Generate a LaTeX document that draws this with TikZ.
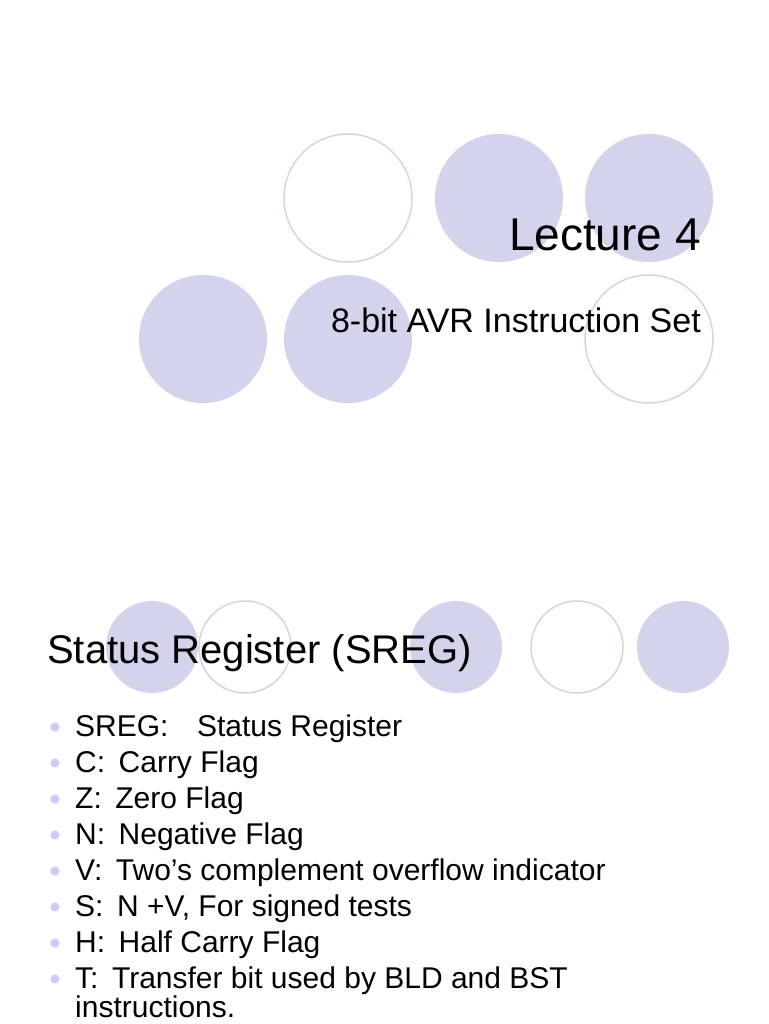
\documentclass[tikz,border=0pt]{standalone}
\usepackage{fontspec}
\setmainfont{Liberation Sans}
\definecolor{lav}{HTML}{D4D3EC}
\begin{document}
\begin{tikzpicture}[x=1pt,y=-1pt,
  fc/.style={fill=lav,draw=none},
  oc/.style={draw=lav,line width=1.5pt,fill=white},
  bl/.style={anchor=base west,font=\fontsize{30}{33}\selectfont,inner sep=0pt},
  bdot/.style={circle,fill=lav!80!blue!60,inner sep=0pt,minimum size=9pt}]
\useasboundingbox (0,0) rectangle (768,1024);
\fill[white] (0,0) rectangle (768,1024);
% slide 1
\draw[oc] (348,198) circle (64);
\fill[lav] (499,198) circle (64);
\fill[lav] (649,198) circle (64);
\fill[lav] (203,339) circle (64);
\fill[lav] (348,339) circle (64);
\draw[oc] (649,339) circle (64);
\node[anchor=base east,inner sep=0pt,font=\fontsize{46}{50}\selectfont] (t1) at (701,250) {Lecture 4};
\node[anchor=base east,inner sep=0pt,font=\fontsize{34}{38}\selectfont] (t2) at (701,332) {8-bit AVR Instruction Set};
% slide 2
\fill[lav] (152,647) circle (46);
\draw[oc] (245,647) circle (46);
\fill[lav] (456,647) circle (46);
\draw[oc] (577,647) circle (46);
\fill[lav] (683,647) circle (46);
\node[anchor=base west,inner sep=0pt,font=\fontsize{40}{44}\selectfont] (t3) at (47,663) {Status Register (SREG)};
\foreach \y/\t [count=\i] in {736/{SREG:\hspace{0.95em}Status Register},772/{C:\hspace{0.45em}Carry Flag},808/{Z:\hspace{0.45em}Zero Flag},844/{N:\hspace{0.45em}Negative Flag},880/{V:\hspace{0.45em}Two’s complement overflow indicator},916/{S:\hspace{0.45em}N +V, For signed tests},952/{H:\hspace{0.45em}Half Carry Flag},988/{T:\hspace{0.45em}Transfer bit used by BLD and BST}}{
  \node[bdot] (d\i) at (55,\y-9) {};
  \node[bl] (b\i) at (75,\y) {\t};
}
\node[bl] (b9) at (75,1017) {instructions.};
\end{tikzpicture}
\end{document}
